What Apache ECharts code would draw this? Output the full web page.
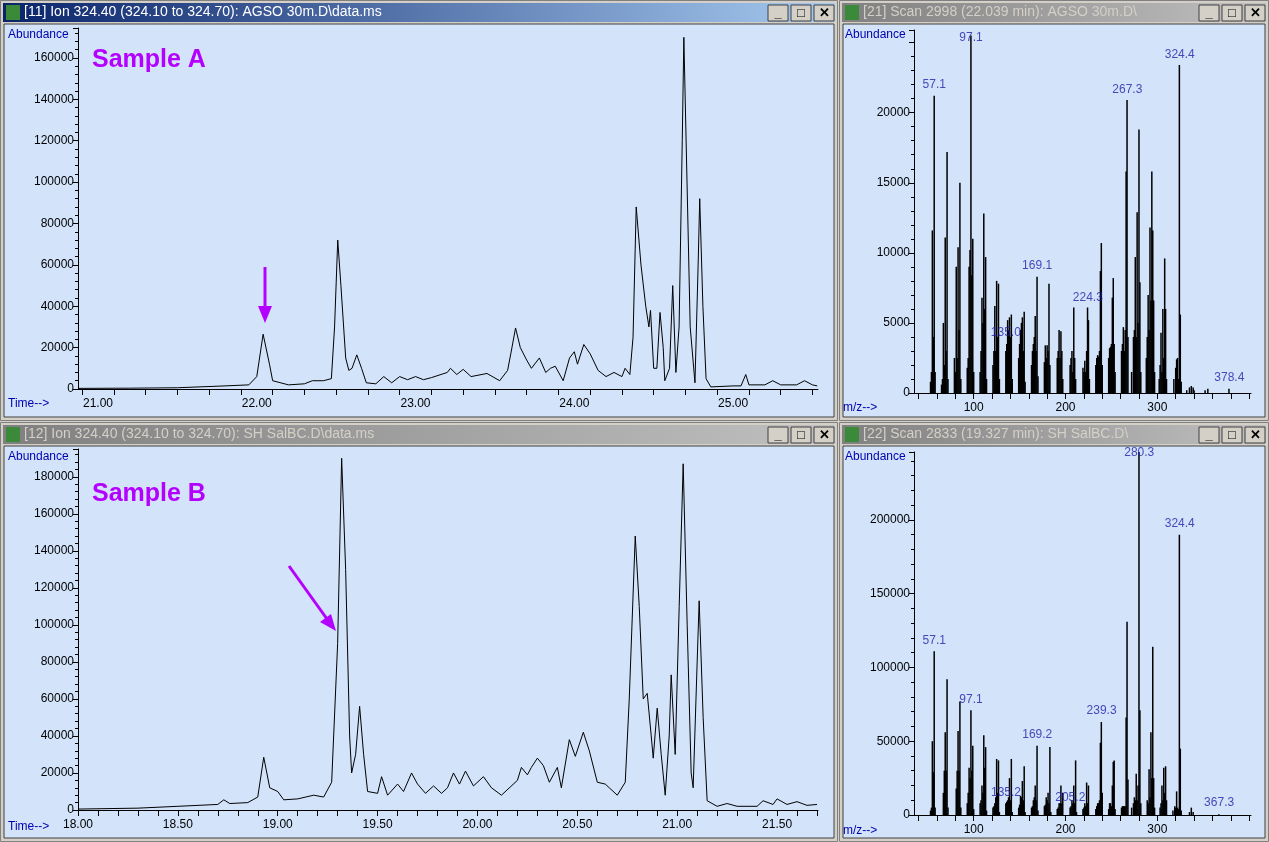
<!DOCTYPE html>
<html><head><meta charset="utf-8">
<script src="https://cdn.jsdelivr.net/npm/echarts@6/dist/echarts.min.js"></script>
<style>html,body{margin:0;padding:0;background:#d4d0c8}#c{width:1269px;height:842px}</style>
</head><body><div id="c"></div>
<script>
// ---- Data ----
const chromA = [[20.88,300],[21.2,400],[21.5,600],[21.8,1500],[21.95,2000],[22.0,6000],[22.04,26500],[22.08,12000],[22.1,4000],[22.2,2000],[22.3,2500],[22.35,4000],[22.42,4000],[22.47,5000],[22.49,30000],[22.51,72000],[22.53,50000],[22.56,15000],[22.58,9000],[22.6,10000],[22.63,16500],[22.66,10000],[22.69,3000],[22.75,2500],[22.8,6000],[22.85,3000],[22.9,6000],[22.95,4500],[23.0,6000],[23.05,4500],[23.1,5500],[23.2,8000],[23.22,10000],[23.26,7000],[23.3,9500],[23.35,6000],[23.45,7500],[23.53,4000],[23.58,9000],[23.6,17000],[23.63,29500],[23.66,20000],[23.7,14000],[23.73,10000],[23.78,15000],[23.82,8000],[23.85,10000],[23.88,11000],[23.93,4000],[23.97,15000],[24.0,18000],[24.02,12000],[24.06,21500],[24.1,17000],[24.15,9000],[24.2,6000],[24.25,8000],[24.3,6000],[24.32,10000],[24.35,7000],[24.37,25000],[24.39,88000],[24.42,60000],[24.45,40000],[24.47,30000],[24.48,38000],[24.5,10000],[24.52,10000],[24.54,37000],[24.56,20000],[24.57,4000],[24.6,10000],[24.62,50000],[24.64,8000],[24.66,30000],[24.68,120000],[24.69,170000],[24.71,100000],[24.73,30000],[24.76,3000],[24.78,60000],[24.79,92000],[24.81,40000],[24.83,5000],[24.86,1000],[25.0,1500],[25.05,1500],[25.08,7000],[25.1,2000],[25.2,2000],[25.25,4000],[25.3,2000],[25.4,2000],[25.45,4000],[25.5,2000],[25.53,1500]];
const chromB = [[18.0,500],[18.3,1000],[18.5,2000],[18.7,3000],[18.73,5500],[18.76,3500],[18.85,4000],[18.9,7000],[18.93,28500],[18.96,12000],[19.0,10000],[19.03,5500],[19.1,6000],[19.18,8000],[19.23,7000],[19.27,15000],[19.3,90000],[19.32,190000],[19.34,130000],[19.36,40000],[19.37,20000],[19.39,30000],[19.41,56000],[19.43,30000],[19.45,10000],[19.5,9000],[19.52,18000],[19.55,8000],[19.6,14000],[19.63,10000],[19.67,20000],[19.7,14000],[19.74,9000],[19.78,13000],[19.82,9000],[19.85,12000],[19.88,20000],[19.91,14000],[19.94,21000],[19.98,13000],[20.03,18000],[20.07,12000],[20.12,8000],[20.2,16000],[20.22,23000],[20.25,19000],[20.27,23000],[20.3,28000],[20.33,24000],[20.36,15000],[20.4,23000],[20.42,12000],[20.46,38000],[20.49,29000],[20.53,42000],[20.56,32000],[20.6,15000],[20.64,14000],[20.66,12000],[20.7,8000],[20.74,15000],[20.76,60000],[20.79,148000],[20.81,110000],[20.83,60000],[20.85,63000],[20.87,40000],[20.88,28000],[20.9,55000],[20.92,30000],[20.94,8000],[20.96,40000],[20.97,73000],[20.99,30000],[21.01,110000],[21.03,187000],[21.05,100000],[21.07,20000],[21.08,12000],[21.1,80000],[21.11,113000],[21.13,50000],[21.15,5000],[21.2,2000],[21.25,3500],[21.3,2000],[21.4,2000],[21.43,5000],[21.48,3000],[21.5,6000],[21.55,3000],[21.6,4500],[21.65,2500],[21.7,3000]];
const specA = [[53,800],[54,1500],[55,11600],[56,4000],[57,21200],[58,1500],[65,600],[66,1000],[67,5000],[68,2000],[69,11100],[70,3000],[71,17200],[72,1000],[79,2500],[80,1500],[81,9000],[82,2500],[83,10400],[84,4500],[85,15000],[86,1000],[93,1800],[94,2500],[95,9000],[96,10200],[97,25500],[98,8400],[99,11000],[100,1500],[107,1500],[108,3000],[109,6800],[110,5000],[111,12800],[112,6000],[113,9700],[114,1000],[121,2000],[122,3000],[123,6200],[124,3000],[125,8000],[126,4000],[127,7800],[128,1000],[135,3000],[136,3500],[137,5200],[138,4500],[139,5400],[140,4000],[141,5600],[142,1000],[149,2500],[150,3500],[151,4500],[152,5000],[153,5400],[154,3000],[155,5800],[156,800],[163,2000],[164,3000],[165,3500],[166,4000],[167,5500],[168,3000],[169,8300],[170,1200],[177,2200],[178,3400],[179,2500],[180,3400],[181,3000],[182,7800],[183,2000],[191,2500],[192,3000],[193,4500],[194,2500],[195,4400],[196,3000],[197,1000],[205,2000],[206,2500],[207,3000],[208,1500],[209,6100],[210,2500],[211,1000],[219,1800],[220,1500],[221,2300],[222,1500],[223,3000],[224,6100],[225,5200],[226,1000],[233,2000],[234,2500],[235,2700],[236,2600],[237,3000],[238,8700],[239,10700],[240,2000],[247,2500],[248,3200],[249,3300],[250,3500],[251,6800],[252,8200],[253,3500],[254,1500],[261,3000],[262,3500],[263,4700],[264,3000],[265,4500],[266,15800],[267,20900],[268,4000],[272,1500],[274,4000],[275,4500],[276,9700],[277,4000],[278,12900],[279,5000],[280,18800],[281,7900],[282,1500],[288,2500],[289,4000],[290,7000],[291,4500],[292,11800],[293,6600],[294,15800],[295,11600],[296,6600],[297,1500],[302,1000],[303,2000],[304,4300],[305,1500],[306,6000],[307,2500],[308,9600],[309,6000],[310,1000],[318,1000],[320,1800],[321,2400],[322,2500],[323,1000],[324,23400],[325,5600],[326,800],[332,200],[335,400],[337,500],[339,400],[340,200],[352,200],[355,300],[378,300]];
const specB = [[53,3000],[54,5000],[55,50000],[56,29000],[57,111000],[58,5000],[67,15000],[68,30000],[69,56000],[70,30000],[71,92000],[72,5000],[81,18000],[82,30000],[83,57000],[84,30000],[85,77000],[86,5000],[93,8000],[94,15000],[95,32000],[96,25000],[97,71000],[98,30000],[99,47000],[100,4000],[107,8000],[108,10000],[109,20000],[110,15000],[111,54000],[112,32000],[113,46000],[114,3000],[121,5000],[122,6000],[123,8000],[124,12000],[125,38000],[126,15000],[127,37000],[128,2000],[135,8000],[136,9000],[137,10000],[138,12000],[139,25000],[140,10000],[141,38000],[142,2000],[149,5000],[150,7000],[151,13000],[152,12000],[153,23000],[154,10000],[155,33000],[156,2000],[163,5000],[164,6000],[165,10000],[166,12000],[167,20000],[168,10000],[169,47000],[170,3000],[177,6000],[178,7000],[179,12000],[180,10000],[181,15000],[182,8000],[183,46000],[184,2000],[191,4000],[192,5000],[193,8000],[194,8000],[195,20000],[196,8000],[197,15000],[205,5000],[206,6000],[207,10000],[208,8000],[209,20000],[210,8000],[211,37000],[212,2000],[219,4000],[220,5000],[221,8000],[222,6000],[223,22000],[224,8000],[225,20000],[233,4000],[234,6000],[235,8000],[236,8000],[237,10000],[238,49000],[239,63000],[240,15000],[247,4000],[248,8000],[249,8000],[250,6000],[251,20000],[252,36000],[253,37000],[254,4000],[261,5000],[262,6000],[263,6000],[264,6000],[265,6000],[266,66000],[267,131000],[268,24000],[272,5000],[274,8000],[275,12000],[276,10000],[277,28000],[278,10000],[279,20000],[280,250000],[281,71000],[282,8000],[289,10000],[290,8000],[291,31000],[292,12000],[293,56000],[294,25000],[295,114000],[296,25000],[297,5000],[303,5000],[304,8000],[305,20000],[306,10000],[307,32000],[308,15000],[309,33000],[310,10000],[317,3000],[319,6000],[320,5000],[321,16000],[322,5000],[323,4000],[324,190000],[325,45000],[326,3000],[335,2000],[337,5000],[339,2000],[367,500]];
const labelsA = [[57.1,21400,'57.1'],[97.1,24800,'97.1'],[135.0,3700,'135.0'],[169.1,8500,'169.1'],[224.3,6200,'224.3'],[267.3,21100,'267.3'],[324.4,23600,'324.4'],[378.4,500,'378.4']];
const labelsB = [[57.1,113000,'57.1'],[97.1,73000,'97.1'],[135.2,10000,'135.2'],[169.2,49000,'169.2'],[205.2,6000,'205.2'],[239.3,65000,'239.3'],[280.3,240000,'280.3'],[324.4,192000,'324.4'],[367.3,3000,'367.3']];
const tickA = [20.9,21.1,21.3,21.5,21.7,21.9,22.1,22.3,22.5,22.7,22.9,23.1,23.3,23.5,23.7,23.9,24.1,24.3,24.5,24.7,24.9,25.1,25.3,25.5];
const labA = [21,22,23,24,25];
const tickB = [18.0,18.1,18.2,18.3,18.4,18.5,18.6,18.7,18.8,18.9,19.0,19.1,19.2,19.3,19.4,19.5,19.6,19.7,19.8,19.9,20.0,20.1,20.2,20.3,20.4,20.5,20.6,20.7,20.8,20.9,21.0,21.1,21.2,21.3,21.4,21.5,21.6,21.7];
const labB = [18.0,18.5,19.0,19.5,20.0,20.5,21.0,21.5];
const mzTicks = [40,60,80,100,120,140,160,180,200,220,240,260,280,300,320,340,360,380,400];
const mzLabels = [100,200,300];
const titles = ['[11] Ion 324.40 (324.10 to 324.70): AGSO 30m.D\\data.ms','[21] Scan 2998 (22.039 min): AGSO 30m.D\\','[12] Ion 324.40 (324.10 to 324.70): SH SalBC.D\\data.ms','[22] Scan 2833 (19.327 min): SH SalBC.D\\'];

// ---- Chart ----
const FONT = '"Liberation Sans Narrow","Liberation Sans",Arial,sans-serif';
const chart = echarts.init(document.getElementById('c'));
const wins = [
  {x:0,y:0,w:838,h:421,active:true},
  {x:839,y:0,w:430,h:421},
  {x:0,y:422,w:838,h:420},
  {x:839,y:422,w:430,h:420}
];
const g = [];
wins.forEach((w,i)=>{
  g.push({type:'rect',shape:{x:w.x+0.5,y:w.y+0.5,width:w.w-1,height:w.h-1},style:{fill:'#d4d0c8',stroke:'#808080',lineWidth:1},z:-10});
  g.push({type:'rect',shape:{x:w.x+3,y:w.y+3,width:w.w-6,height:19},style:{fill:new echarts.graphic.LinearGradient(0,0,1,0,w.active?[{offset:0,color:'#0a246a'},{offset:1,color:'#a6caf0'}]:[{offset:0,color:'#808080'},{offset:1,color:'#c0c0c0'}])},z:-9});
  g.push({type:'rect',shape:{x:w.x+4,y:w.y+24,width:w.w-8,height:w.h-28},style:{fill:'#d2e3fa',stroke:'#404040',lineWidth:1},z:-9});
  g.push({type:'rect',shape:{x:w.x+6,y:w.y+5,width:14,height:15},style:{fill:'#3a8a3a'},z:-8});
  g.push({type:'text',x:w.x+24,y:w.y+5,style:{text:titles[i],fill:w.active?'#ffffff':'#d4d0c8',font:'14px '+FONT},z:-8});
  [w.w-70,w.w-47,w.w-24].forEach((bx,k)=>{
    g.push({type:'rect',shape:{x:w.x+bx,y:w.y+5,width:20,height:16},style:{fill:'#d4d0c8',stroke:'#404040',lineWidth:1},z:-8});
    g.push({type:'text',x:w.x+bx+10,y:w.y+13,style:{text:['_','□','✕'][k],fill:'#000',font:'bold 13px Arial',align:'center',verticalAlign:'middle'},z:-7});
  });
});
g.push({type:'text',x:8,y:29,style:{text:'Abundance',fill:'#0000b0',font:'12px '+FONT}});
g.push({type:'text',x:8,y:398,style:{text:'Time-->',fill:'#0000b0',font:'12px '+FONT}});
g.push({type:'text',x:8,y:451,style:{text:'Abundance',fill:'#0000b0',font:'12px '+FONT}});
g.push({type:'text',x:8,y:821,style:{text:'Time-->',fill:'#0000b0',font:'12px '+FONT}});
g.push({type:'text',x:845,y:29,style:{text:'Abundance',fill:'#0000b0',font:'12px '+FONT}});
g.push({type:'text',x:843,y:402,style:{text:'m/z-->',fill:'#0000b0',font:'12px '+FONT}});
g.push({type:'text',x:845,y:451,style:{text:'Abundance',fill:'#0000b0',font:'12px '+FONT}});
g.push({type:'text',x:843,y:825,style:{text:'m/z-->',fill:'#0000b0',font:'12px '+FONT}});
g.push({type:'text',x:92,y:48,style:{text:'Sample A',fill:'#b400ff',font:'bold 25px Arial'}});
g.push({type:'text',x:92,y:482,style:{text:'Sample B',fill:'#b400ff',font:'bold 25px Arial'}});
g.push({type:'line',shape:{x1:265,y1:267,x2:265,y2:308},style:{stroke:'#b400ff',lineWidth:3}});
g.push({type:'polygon',shape:{points:[[258,306],[272,306],[265,323]]},style:{fill:'#b400ff'}});
g.push({type:'line',shape:{x1:289,y1:566,x2:327,y2:619},style:{stroke:'#b400ff',lineWidth:3}});
g.push({type:'polygon',shape:{points:[[320,622],[331,614],[336,631]]},style:{fill:'#b400ff'}});

const grids = [
  {left:78,top:28,width:740,height:361},
  {left:914,top:30,width:337,height:363},
  {left:78,top:449,width:740,height:361},
  {left:914,top:452,width:337,height:363}
];
const lbl = {color:'#000',fontFamily:FONT,fontSize:12};
function xa(i,min,max,ticks,labs,fmt){return {type:'value',gridIndex:i,min,max,axisLine:{onZero:false,lineStyle:{color:'#000'}},splitLine:{show:false},
  axisTick:{customValues:ticks,length:6,lineStyle:{color:'#000'}},axisLabel:{customValues:labs,formatter:fmt,...lbl,margin:9}};}
function ya(i,max,labs,interval){return {type:'value',gridIndex:i,min:0,max,interval,axisLine:{show:true,lineStyle:{color:'#000'}},splitLine:{show:false},
  axisTick:{length:5,lineStyle:{color:'#000'}},minorTick:{show:true,splitNumber:5,length:3,lineStyle:{color:'#000'}},
  axisLabel:{customValues:labs,formatter:v=>String(v),...lbl,margin:4}};}
const rng=(a,b,s)=>{const r=[];for(let v=a;v<=b;v+=s)r.push(v);return r;};
chart.setOption({
  animation:false,
  graphic:g,
  grid:grids,
  xAxis:[xa(0,20.874,25.535,tickA,labA,v=>v.toFixed(2)),xa(1,35,402,mzTicks,mzLabels,v=>v),xa(2,18.0,21.705,tickB,labB,v=>v.toFixed(2)),xa(3,35,402,mzTicks,mzLabels,v=>v)],
  yAxis:[ya(0,174500,rng(0,160000,20000),20000),ya(1,25900,rng(0,20000,5000),5000),ya(2,195000,rng(0,180000,20000),20000),ya(3,246000,rng(0,200000,50000),50000)],
  series:[
    {type:'line',xAxisIndex:0,yAxisIndex:0,data:chromA,symbol:'none',lineStyle:{color:'#000',width:1}},
    {type:'bar',xAxisIndex:1,yAxisIndex:1,data:specA,barWidth:1.5,itemStyle:{color:'#000'}},
    {type:'scatter',xAxisIndex:1,yAxisIndex:1,data:labelsA,symbolSize:0,label:{show:true,position:'top',formatter:p=>p.data[2],color:'#2020a8',fontFamily:FONT,fontSize:12,distance:2}},
    {type:'line',xAxisIndex:2,yAxisIndex:2,data:chromB,symbol:'none',lineStyle:{color:'#000',width:1}},
    {type:'bar',xAxisIndex:3,yAxisIndex:3,data:specB,barWidth:1.5,itemStyle:{color:'#000'}},
    {type:'scatter',xAxisIndex:3,yAxisIndex:3,data:labelsB,symbolSize:0,label:{show:true,position:'top',formatter:p=>p.data[2],color:'#2020a8',fontFamily:FONT,fontSize:12,distance:2}}
  ]
});
</script></body></html>
